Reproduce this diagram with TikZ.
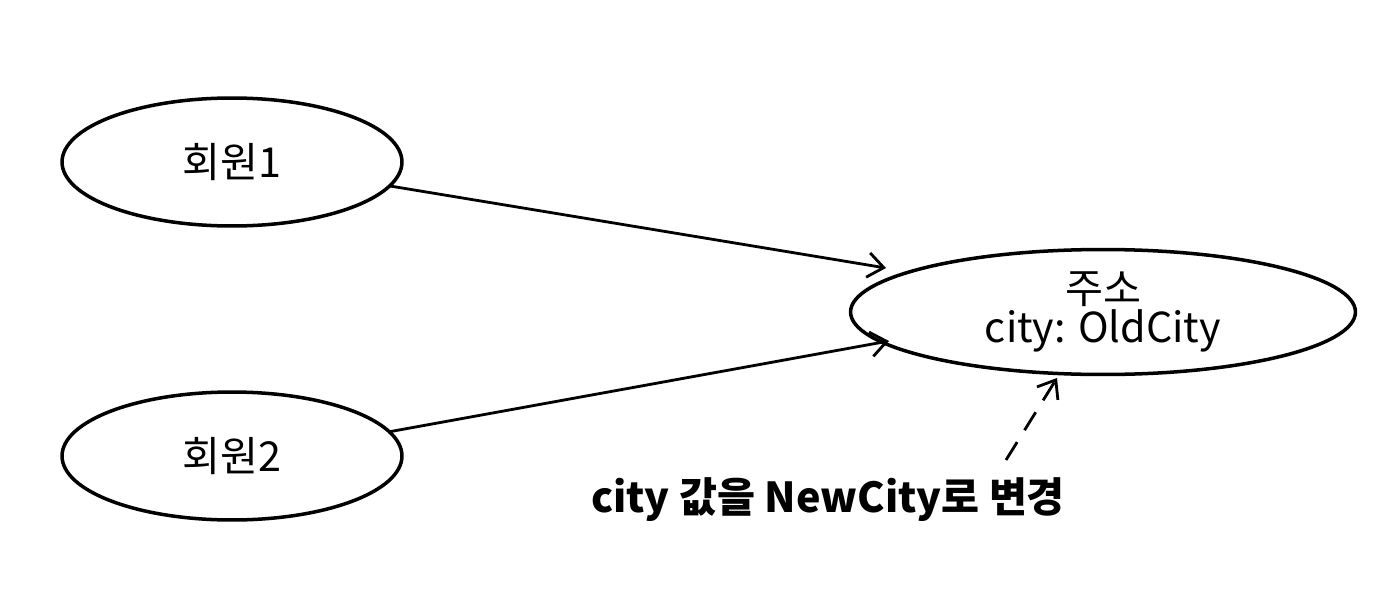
\documentclass[tikz,border=0pt]{standalone}
\usepackage{fontspec}
\setmainfont{Noto Sans CJK KR}
\usetikzlibrary{arrows.meta,shapes.geometric}
\begin{document}
\begin{tikzpicture}[x=0.02cm,y=-0.02cm,
  ell/.style={draw,line width=2pt,ellipse,inner sep=0pt,font=\fontsize{23.5}{27}\selectfont},
  conn/.style={line width=1.6pt,-{Straight Barb[length=9pt,width=14pt,line width=1.6pt]}}]
\useasboundingbox (0,0) rectangle (1400,595);
\node[ell,minimum width=6.8cm,minimum height=2.56cm] (m1) at (232,162) {회원1};
\node[ell,minimum width=6.8cm,minimum height=2.56cm] (m2) at (232,456) {회원2};
\node[ell,minimum width=10.1cm,minimum height=2.5cm,align=center] (addr) at (1103,312) {주소\\[-5pt]city: OldCity};
\node[font=\bfseries\fontsize{23.5}{27}\selectfont] (lbl) at (828,500) {city 값을 NewCity로 변경};
\coordinate (s1) at (390,186);
\coordinate (e1) at (886,268);
\coordinate (s2) at (388,432);
\coordinate (e2) at (889,341);
\coordinate (s3) at (1006,460);
\coordinate (e3) at (1057,378);
\draw[conn] (s1) -- (e1);
\draw[conn] (s2) -- (e2);
\draw[conn,dash pattern=on 12pt off 8pt] (s3) -- (e3);
\end{tikzpicture}
\end{document}
